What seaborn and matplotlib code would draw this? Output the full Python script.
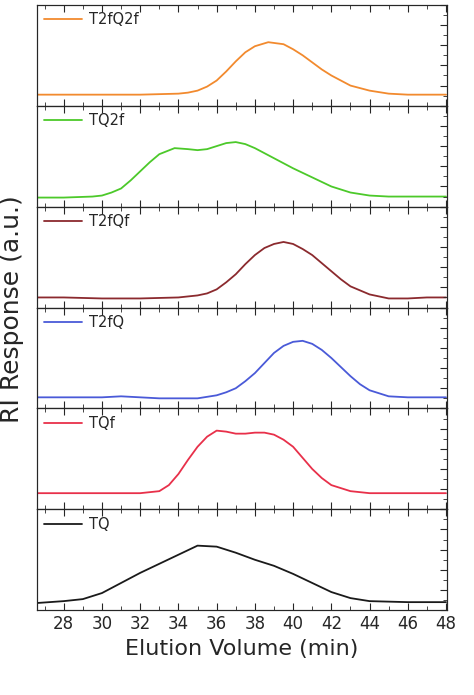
import matplotlib
matplotlib.use("Agg")
import matplotlib.pyplot as plt
import seaborn as sns
import pandas as pd
from matplotlib.ticker import MultipleLocator

sns.set_style("ticks")
plt.rcParams['font.family'] = ['DejaVu Sans']

names = ["T2fQ2f", "TQ2f", "T2fQf", "T2fQ", "TQf", "TQ"]
colors = ["#f28a2e", "#4cc92a", "#8b2a2e", "#4a5ad8", "#e8304a", "#1a1a1a"]

x_orange = [26.5, 28, 30, 32, 34, 34.5, 35, 35.5, 36, 36.5, 37, 37.5, 38, 38.7, 39.5, 40, 40.5, 41, 41.5, 42, 43, 44, 45, 46, 48]
y_orange = [0.11, 0.11, 0.11, 0.11, 0.12, 0.13, 0.15, 0.19, 0.25, 0.34, 0.44, 0.53, 0.59, 0.63, 0.61, 0.56, 0.50, 0.43, 0.36, 0.30, 0.20, 0.15, 0.12, 0.11, 0.11]
x_green = [26.5, 28, 29.5, 30, 30.5, 31, 31.5, 32, 32.5, 33, 33.8, 34.5, 35, 35.5, 36, 36.5, 37, 37.5, 38, 39, 40, 41, 42, 43, 44, 45, 48]
y_green = [0.09, 0.09, 0.10, 0.11, 0.14, 0.18, 0.26, 0.35, 0.44, 0.52, 0.58, 0.57, 0.56, 0.57, 0.60, 0.63, 0.64, 0.62, 0.58, 0.48, 0.38, 0.29, 0.20, 0.14, 0.11, 0.10, 0.10]
x_brown = [26.5, 28, 30, 32, 34, 35, 35.5, 36, 36.5, 37, 37.5, 38, 38.5, 39, 39.5, 40, 40.5, 41, 41.5, 42, 42.5, 43, 44, 45, 46, 47, 48]
y_brown = [0.10, 0.10, 0.09, 0.09, 0.10, 0.12, 0.14, 0.18, 0.25, 0.33, 0.43, 0.52, 0.59, 0.63, 0.65, 0.63, 0.58, 0.52, 0.44, 0.36, 0.28, 0.21, 0.13, 0.09, 0.09, 0.10, 0.10]
x_blue = [26.5, 28, 30, 31, 33, 35, 36, 36.5, 37, 37.5, 38, 38.5, 39, 39.5, 40, 40.5, 41, 41.5, 42, 42.5, 43, 43.5, 44, 45, 46, 48]
y_blue = [0.11, 0.11, 0.11, 0.12, 0.10, 0.10, 0.13, 0.16, 0.20, 0.27, 0.35, 0.45, 0.55, 0.62, 0.66, 0.67, 0.64, 0.58, 0.50, 0.41, 0.32, 0.24, 0.18, 0.12, 0.11, 0.11]
x_red = [26.5, 28, 32, 33, 33.5, 34, 34.5, 35, 35.5, 36, 36.5, 37, 37.5, 38, 38.5, 39, 39.5, 40, 40.5, 41, 41.5, 42, 43, 44, 48]
y_red = [0.16, 0.16, 0.16, 0.18, 0.24, 0.35, 0.49, 0.62, 0.72, 0.78, 0.77, 0.75, 0.75, 0.76, 0.76, 0.74, 0.69, 0.62, 0.51, 0.40, 0.31, 0.24, 0.18, 0.16, 0.16]
x_black = [26.5, 28, 29, 30, 31, 32, 33, 34, 35, 36, 37, 38, 39, 40, 41, 42, 43, 44, 46, 48]
y_black = [0.07, 0.09, 0.11, 0.17, 0.27, 0.37, 0.46, 0.55, 0.64, 0.63, 0.57, 0.50, 0.44, 0.36, 0.27, 0.18, 0.12, 0.09, 0.08, 0.08]

xs = [x_orange, x_green, x_brown, x_blue, x_red, x_black]
ys = [y_orange, y_green, y_brown, y_blue, y_red, y_black]

fig, axes = plt.subplots(6, 1, figsize=(4.74, 6.95), dpi=100, sharex=True)
fig.subplots_adjust(left=0.078, right=0.943, bottom=0.122, top=0.993, hspace=0)

for ax, n, c, x, y in zip(axes, names, colors, xs, ys):
    df = pd.DataFrame({"x": x, "y": y})
    sns.lineplot(data=df, x="x", y="y", ax=ax, color=c, lw=1.3, label=n)
    ax.set_xlim(26.6, 48.05)
    ax.set_ylim(0, 1)
    ax.set_ylabel("")
    ax.set_xlabel("")
    ax.set_yticks([])
    for s in ax.spines.values():
        s.set_color("#333333")
    ax.legend(loc="upper left", frameon=False, fontsize=10.5, handlelength=2.6,
              borderaxespad=0.0, borderpad=0.5, handletextpad=0.5)
    ax2 = ax.twinx()
    ax2.set_ylim(0, 1)
    ax2.yaxis.set_major_locator(MultipleLocator(0.2))
    ax2.yaxis.set_minor_locator(MultipleLocator(0.1))
    ax2.tick_params(axis="y", which="both", direction="in", labelright=False)
    ax2.tick_params(axis="y", which="major", length=5)
    ax2.tick_params(axis="y", which="minor", length=3)

axes[-1].set_xticks(range(28, 49, 2))
for ax in axes:
    ax.xaxis.set_minor_locator(MultipleLocator(1))
    ax.xaxis.set_ticks_position("both")
    ax.tick_params(axis="x", which="both", direction="in", top=True, bottom=True, labelbottom=False)
    ax.tick_params(axis="x", which="major", length=5)
    ax.tick_params(axis="x", which="minor", length=3)
axes[-1].tick_params(axis="x", labelbottom=True, labelsize=12)
axes[-1].set_xlabel("Elution Volume (min)", fontsize=16)
fig.text(0.025, 0.555, "RI Response (a.u.)", rotation=90, fontsize=18, va="center", ha="center")

fig.savefig("out.png", dpi=100)
